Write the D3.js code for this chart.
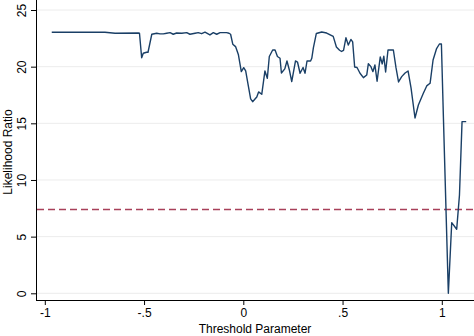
<!DOCTYPE html>
<html>
<head>
<meta charset="utf-8">
<script src="https://cdn.jsdelivr.net/npm/d3@7"></script>
<style>
  html, body { margin: 0; padding: 0; background: #fff; }
  svg { display: block; font-family: "Liberation Sans", Arial, sans-serif; }
</style>
</head>
<body>
<svg id="chart" width="474" height="336"></svg>
<script>
// Threshold grid (gamma) and the likelihood-ratio statistic at each value
const thresholds = [
  -0.965, -0.697, -0.646, -0.529, -0.523, -0.512, -0.504, -0.487, -0.480, -0.461,
  -0.436, -0.420, -0.403, -0.386, -0.369, -0.353, -0.336, -0.310, -0.285, -0.269,
  -0.243, -0.227, -0.210, -0.193, -0.168, -0.151, -0.134, -0.117, -0.084, -0.072,
  -0.064, -0.053, -0.039, -0.025, -0.010, 0.002, 0.012, 0.026, 0.037, 0.047,
  0.059, 0.068, 0.077, 0.093, 0.109, 0.121, 0.131, 0.148, 0.160, 0.172,
  0.185, 0.192, 0.209, 0.220, 0.232, 0.244, 0.263, 0.273, 0.286, 0.301,
  0.311, 0.321, 0.339, 0.345, 0.353, 0.368, 0.395, 0.420, 0.453, 0.469,
  0.485, 0.495, 0.505, 0.517, 0.529, 0.542, 0.551, 0.561, 0.573, 0.588,
  0.605, 0.622, 0.630, 0.643, 0.653, 0.663, 0.674, 0.690, 0.700, 0.708,
  0.717, 0.729, 0.756, 0.769, 0.782, 0.798, 0.815, 0.830, 0.845, 0.865,
  0.882, 0.907, 0.924, 0.941, 0.956, 0.973, 0.988, 0.998, 1.008, 1.033,
  1.050, 1.075, 1.089, 1.102, 1.123
];
const lrStat = [
  23.04, 23.04, 22.95, 22.97, 22.95, 20.79, 21.18, 21.27, 21.27, 22.86,
  22.95, 22.89, 22.89, 22.95, 23.00, 22.86, 22.97, 22.95, 23.00, 22.86,
  22.95, 23.00, 22.91, 23.04, 22.80, 23.00, 22.86, 23.00, 23.00, 22.95,
  22.86, 21.98, 21.77, 21.08, 19.56, 19.91, 19.62, 18.23, 17.15, 16.91,
  17.15, 17.33, 17.77, 17.56, 19.62, 18.98, 20.90, 21.47, 21.47, 20.90,
  20.74, 19.44, 19.80, 20.50, 19.71, 18.69, 20.50, 20.41, 19.42, 19.93,
  19.42, 20.50, 20.50, 20.74, 21.65, 22.93, 23.06, 22.97, 22.67, 21.74,
  21.45, 21.34, 21.43, 22.55, 21.91, 22.40, 22.18, 19.97, 19.93, 19.42,
  19.03, 19.27, 20.26, 20.00, 19.56, 20.15, 18.71, 20.86, 20.24, 20.92,
  19.53, 21.47, 21.47, 19.93, 18.65, 19.12, 19.44, 19.62, 18.12, 15.47,
  16.62, 17.65, 18.30, 18.53, 20.59, 21.56, 22.00, 22.00, 15.59, 0.00,
  6.23, 5.65, 8.68, 15.15, 15.15
];
const criticalValue = 7.4;

const xTickValues = [-1, -0.5, 0, 0.5, 1];
const xTickLabels = ["-1", "-.5", "0", ".5", "1"];
const yTickValues = [0, 5, 10, 15, 20, 25];
const yTickLabels = ["0", "5", "10", "15", "20", "25"];

const data = thresholds.map((t, i) => ({ t, lr: lrStat[i] }));

const svg = d3.select("#chart");
const plotLeft = 36, plotRight = 474, plotTop = 0, plotBottom = 300;

const x = d3.scaleLinear().domain([-1, 1]).range([44.8, 441.8]);
const y = d3.scaleLinear().domain([0, 25]).range([293.3, 10]);

// horizontal grid
svg.append("g")
  .selectAll("line")
  .data(yTickValues)
  .join("line")
  .attr("x1", plotLeft).attr("x2", plotRight)
  .attr("y1", d => y(d)).attr("y2", d => y(d))
  .attr("stroke", "#ececec")
  .attr("stroke-width", 1);

// x axis
const xAxis = svg.append("g")
  .attr("transform", `translate(0,${plotBottom})`)
  .call(d3.axisBottom(x)
    .tickValues(xTickValues)
    .tickFormat((d, i) => xTickLabels[i])
    .tickSize(5)
    .tickPadding(3));
xAxis.select(".domain").remove();
xAxis.selectAll(".tick line").attr("stroke", "#000").attr("stroke-width", 1);
xAxis.selectAll(".tick text")
  .attr("font-size", 12)
  .attr("fill", "#000")
  .attr("font-family", "Liberation Sans, Arial, sans-serif");

// y axis, labels turned to read upward
const yAxis = svg.append("g")
  .attr("transform", `translate(${plotLeft},0)`)
  .call(d3.axisLeft(y)
    .tickValues(yTickValues)
    .tickFormat((d, i) => yTickLabels[i])
    .tickSize(5));
yAxis.select(".domain").remove();
yAxis.selectAll(".tick line").attr("stroke", "#000").attr("stroke-width", 1);
yAxis.selectAll(".tick text")
  .attr("x", 0)
  .attr("y", 0)
  .attr("dy", null)
  .attr("text-anchor", "middle")
  .attr("font-size", 12)
  .attr("fill", "#000")
  .attr("font-family", "Liberation Sans, Arial, sans-serif")
  .attr("transform", "translate(-10,0) rotate(-90)");

// axis lines
svg.append("line")
  .attr("x1", plotLeft + 0.5).attr("x2", plotLeft + 0.5)
  .attr("y1", plotTop).attr("y2", plotBottom)
  .attr("stroke", "#000").attr("stroke-width", 1);
svg.append("line")
  .attr("x1", plotLeft).attr("x2", plotRight)
  .attr("y1", plotBottom + 0.5).attr("y2", plotBottom + 0.5)
  .attr("stroke", "#000").attr("stroke-width", 1);

// critical value reference line
svg.append("line")
  .attr("x1", plotLeft + 1).attr("x2", plotRight)
  .attr("y1", y(criticalValue)).attr("y2", y(criticalValue))
  .attr("stroke", "#a8405a")
  .attr("stroke-width", 1.6)
  .attr("stroke-dasharray", "7,4");

// LR statistic line
svg.append("path")
  .datum(data)
  .attr("fill", "none")
  .attr("stroke", "#1a3f66")
  .attr("stroke-width", 1.4)
  .attr("stroke-linejoin", "round")
  .attr("d", d3.line().x(d => x(d.t)).y(d => y(d.lr)));

// axis titles
svg.append("text")
  .attr("x", 255).attr("y", 333)
  .attr("text-anchor", "middle")
  .attr("font-size", 12)
  .attr("fill", "#000")
  .text("Threshold Parameter");
svg.append("text")
  .attr("transform", "translate(12,152) rotate(-90)")
  .attr("text-anchor", "middle")
  .attr("font-size", 12)
  .attr("fill", "#000")
  .text("Likelihood Ratio");
</script>
</body>
</html>
